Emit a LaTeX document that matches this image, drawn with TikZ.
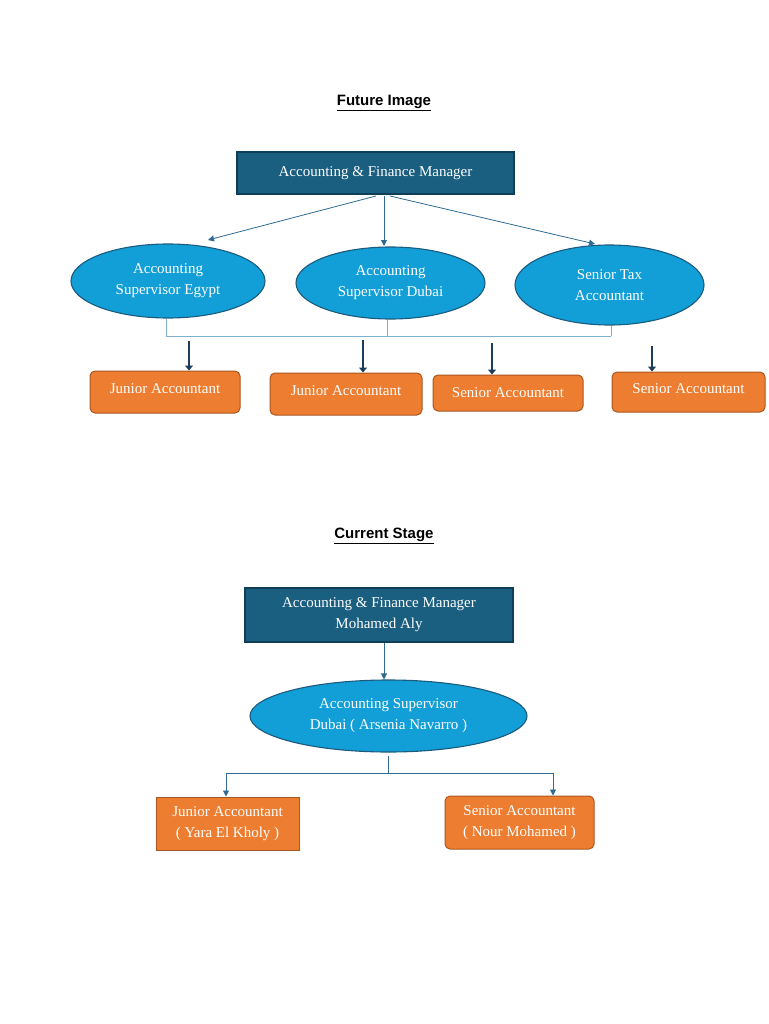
\documentclass[tikz,border=0pt]{standalone}
\usepackage{fontspec}
\setmainfont{Liberation Serif}
\setsansfont{Liberation Sans}
\usetikzlibrary{shapes.geometric,arrows.meta}
\definecolor{mgrblue}{HTML}{1A5E80}
\definecolor{mgrline}{HTML}{0F3E58}
\definecolor{supblue}{HTML}{129ED6}
\definecolor{supline}{HTML}{1B5B7E}
\definecolor{staffor}{HTML}{ED7D31}
\definecolor{staffline}{HTML}{A9561E}
\definecolor{linkblue}{HTML}{2E6A92}
\definecolor{barblue}{HTML}{7FAFCF}
\definecolor{thicknavy}{HTML}{1B3D5C}
\begin{document}
\begin{tikzpicture}[x=1pt,y=-1pt]
          \tikzstyle{every node}=[font=\fontsize{15}{21}\selectfont,text=white,align=center,inner sep=0pt];
          \tikzstyle{title}=[font=\sffamily\bfseries\fontsize{15}{18}\selectfont,text=black];
          \tikzstyle{manager}=[draw=mgrline,line width=1.3pt,fill=mgrblue];
          \tikzstyle{super}=[ellipse,draw=supline,line width=1.1pt,fill=supblue];
          \tikzstyle{staff}=[draw=staffline,line width=1pt,fill=staffor,rounded corners=5pt];
          \tikzstyle{link}=[draw=linkblue,line width=0.8pt,-{Triangle[length=6pt,width=6pt]}];
          \tikzstyle{bar}=[draw=barblue,line width=1pt];
          \tikzstyle{push}=[draw=thicknavy,line width=2.6pt,-{Triangle[length=5pt,width=8pt]}];
          \useasboundingbox (0,0) rectangle (768,1024);
          %future image
          \node[title] (fut) at (384,103) {\underline{Future Image}};
          \node[manager,minimum width=277,minimum height=42] (mgr) at (375.5,173) {Accounting \& Finance Manager};
          \node[super,minimum width=194,minimum height=74] (egypt) at (168,281) {Accounting\\Supervisor Egypt};
          \node[super,minimum width=189,minimum height=72] (dubai) at (390.5,283) {Accounting\\Supervisor Dubai};
          \node[super,minimum width=189,minimum height=80] (tax) at (609.5,285) {Senior Tax\\Accountant};
          \node[staff,minimum width=150,minimum height=42,text depth=7pt] (jr1) at (165,392) {Junior Accountant};
          \node[staff,minimum width=152,minimum height=42,text depth=7pt] (jr2) at (346,394) {Junior Accountant};
          \node[staff,minimum width=150,minimum height=36] (sr1) at (508,393) {Senior Accountant};
          \node[staff,minimum width=153,minimum height=40,text depth=7pt] (sr2) at (688.5,392) {Senior Accountant};
          \coordinate (m1) at (376,196);
          \coordinate (m2) at (384,196);
          \coordinate (m3) at (390,196);
          \coordinate (e1) at (208,240);
          \coordinate (e2) at (384,246);
          \coordinate (e3) at (595,244);
          \draw[link] (m1)--(e1);
          \draw[link] (m2)--(e2);
          \draw[link] (m3)--(e3);
          \coordinate (b1) at (166,336);
          \coordinate (b2) at (387,336);
          \coordinate (b3) at (611,336);
          \draw[bar] (egypt.south -| b1)--(b1);
          \draw[bar] (dubai.south -| b2)--(b2);
          \draw[bar] (tax.south -| b3)--(b3);
          \draw[bar] (b1)--(b3);
          \coordinate (p1) at (189,341);
          \coordinate (p2) at (363,340);
          \coordinate (p3) at (492,343);
          \coordinate (p4) at (652,346);
          \draw[push] (p1)--(jr1.north -| p1);
          \draw[push] (p2)--(jr2.north -| p2);
          \draw[push] (p3)--(sr1.north -| p3);
          \draw[push] (p4)--(sr2.north -| p4);
          %current stage
          \node[title] (cur) at (384,536) {\underline{Current Stage}};
          \node[manager,minimum width=268,minimum height=54] (boss) at (379,615) {Accounting \& Finance Manager\\Mohamed Aly};
          \node[super,minimum width=277,minimum height=72] (navarro) at (388.5,716) {Accounting Supervisor\\Dubai ( Arsenia Navarro )};
          \node[staff,rounded corners=0pt,minimum width=143,minimum height=53] (yara) at (227.5,823.5) {Junior Accountant\\( Yara El Kholy )};
          \node[staff,minimum width=149,minimum height=53] (nour) at (519.5,822.5) {Senior Accountant\\( Nour Mohamed )};
          \draw[link] (boss.south -| 384,0)--(navarro.north -| 384,0);
          \coordinate (s0) at (388,773);
          \coordinate (sl) at (226,773);
          \coordinate (sr) at (553,773);
          \draw[draw=linkblue,line width=0.8pt] (388,756)--(s0);
          \draw[draw=linkblue,line width=0.8pt] (sl)--(sr);
          \draw[link] (sl)--(yara.north -| sl);
          \draw[link] (sr)--(nour.north -| sr);
      \end{tikzpicture}
\end{document}
